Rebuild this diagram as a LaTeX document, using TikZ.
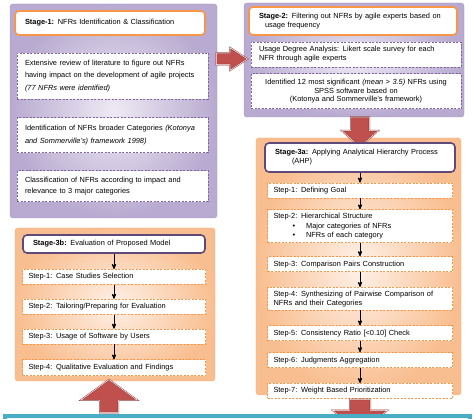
\documentclass[tikz,border=0pt]{standalone}
\usepackage{fontspec}
\setmainfont{Liberation Sans}
\usetikzlibrary{positioning, arrows, shapes.arrows}
\definecolor{purp}{HTML}{8064A2}
\definecolor{purpdark}{HTML}{5F497A}
\definecolor{purplight}{HTML}{EEEAF4}
\definecolor{purpmid}{HTML}{B8AAD0}
\definecolor{orng}{HTML}{F79646}
\definecolor{orngmid}{HTML}{F9BE90}
\definecolor{ornglight}{HTML}{FEF1E8}
\definecolor{arrred}{HTML}{C0504D}
\definecolor{arrdark}{HTML}{953734}
\definecolor{cyanline}{HTML}{4BACC6}
\tikzset{
>=stealth', % small bold heads between the steps
every node/.style={font=\fontsize{7.4}{9.6}\selectfont}, % one text size for every box
purplepanel/.style={rectangle, rounded corners=3pt, draw=purp!70, thin, inner sep=0pt, shading=radial, inner color=purplight, outer color=purpmid}, % stage 1 and 2 background
orangepanel/.style={rectangle, rounded corners=3pt, draw=orng!80, thin, inner sep=0pt, shading=radial, inner color=ornglight, outer color=orngmid}, % stage 3 background
stagehead/.style={rectangle, rounded corners=4pt, fill=white, line width=1.6pt, inner xsep=10pt, align=left}, % title box of a stage
orangehead/.style={stagehead, draw=orng},
purplehead/.style={stagehead, draw=purpdark},
notebox/.style={rectangle, fill=white, draw=purp, line width=0.8pt, dash pattern=on 2pt off 1.5pt, inner xsep=8pt, text width=175pt, align=left}, % dashed box on purple
stepbox/.style={rectangle, fill=white, draw=orng, line width=0.8pt, dash pattern=on 2pt off 1.5pt, inner xsep=6pt, minimum height=15pt, align=left}, % dashed box on orange
steparrow/.style={->, line width=0.8pt, black},
blockarrow/.style={single arrow, inner xsep=0pt, fill=arrred, draw=arrdark, line width=0.5pt, double=white, double distance=0.5pt, single arrow head indent=0pt}, % big red arrow between stages, inner ysep is half the shaft
endbox/.style={rectangle, draw=cyanline, line width=3.5pt, fill=cyanline!12}, % box below the picture
}

\begin{document}
\begin{tikzpicture}[x=1pt, y=1pt]
\useasboundingbox (0,0) rectangle (474,-419);
\node[purplepanel, minimum width=207pt, minimum height=214pt] (s1) at (113.5,-111) {};
\node[purplepanel, minimum width=220pt, minimum height=114pt] (s2) at (354,-60) {};
\node[orangepanel, minimum width=205pt, minimum height=257pt] (s3a) at (358.5,-266.5) {};
\node[orangepanel, minimum width=200pt, minimum height=153pt] (s3b) at (115,-304.5) {};

\node[blockarrow, minimum height=31pt, minimum width=22pt, inner ysep=5.5pt, single arrow head extend=5.5pt, single arrow tip angle=66] (r1) at (227.5,-59) {};
\node[blockarrow, rotate=-90, minimum height=30pt, minimum width=36pt, inner ysep=9pt, single arrow head extend=9pt, single arrow tip angle=95] (r2) at (360,-128) {};

\node[orangehead, text width=170pt, minimum height=24pt] (h1) at (110,-23) {\textbf{Stage-1:} NFRs Identification \& Classification};
\node[notebox, minimum height=46pt] (s1a) at (112.5,-76) {Extensive review of literature to figure out NFRs\\[3pt] having impact on the development of agile projects\\[3pt] \textit{(77 NFRs were identified)}};
\node[notebox, minimum height=35pt, below=18pt of s1a] (s1b) {Identification of NFRs broader Categories \textit{(Kotonya}\\[3.5pt] \textit{and Sommerville’s) framework 1998)}};
\node[notebox, minimum height=31pt, below=17pt of s1b] (s1c) {Classification of NFRs according to impact and\\[0.5pt] relevance to 3 major categories};

\node[orangehead, text width=188pt, minimum height=28pt] (h2) at (353,-21) {\textbf{Stage-2:} Filtering out NFRs by agile experts based on\\[-0.5pt] \hspace*{6pt}usage frequency};
\node[notebox, text width=194pt, minimum height=25pt] (s2a) at (356,-54.5) {Usage Degree Analysis: Likert scale survey for each\\[-0.5pt] NFR through agile experts};
\node[notebox, text width=194pt, minimum height=35pt, align=center, below=6pt of s2a] (s2b) {Identified 12 most significant \textit{(mean > 3.5)} NFRs using\\[-1pt] SPSS software based on\\[-1pt] (Kotonya and Sommerville’s framework)};

\node[purplehead, text width=170pt, minimum height=29pt] (h3a) at (360,-157.5) {\textbf{Stage-3a:} Applying Analytical Hierarchy Process\\[-0.5pt] \hspace*{17pt}(AHP)};
\node[stepbox, text width=173pt] (a1) at (360,-190.5) {Step-1: Defining Goal};
\node[stepbox, text width=173pt, minimum height=33pt, below=11pt of a1] (a2) {Step-2: Hierarchical Structure\\ \hspace*{19pt}\textbullet\hspace{11pt}Major categories of NFRs\\ \hspace*{19pt}\textbullet\hspace{11pt}NFRs of each category};
\node[stepbox, text width=173pt, below=13pt of a2] (a3) {Step-3: Comparison Pairs Construction};
\node[stepbox, text width=173pt, minimum height=22pt, below=15pt of a3] (a4) {Step-4: Synthesizing of Pairwise Comparison of\\[-0.5pt] NFRs and their Categories};
\node[stepbox, text width=173pt, below=15pt of a4] (a5) {Step-5: Consistency Ratio [<0.10] Check};
\node[stepbox, text width=173pt, below=11pt of a5] (a6) {Step-6: Judgments Aggregation};
\node[stepbox, text width=173pt, below=15pt of a6] (a7) {Step-7: Weight Based Prioritization};

\node[purplehead, text width=162pt, minimum height=18pt] (h3b) at (114,-244) {\textbf{Stage-3b:} Evaluation of Proposed Model};
\node[stepbox, text width=171pt] (b1) at (114,-277) {Step-1: Case Studies Selection};
\node[stepbox, text width=171pt, below=14pt of b1] (b2) {Step-2: Tailoring/Preparing for Evaluation};
\node[stepbox, text width=171pt, below=14pt of b2] (b3) {Step-3: Usage of Software by Users};
\node[stepbox, text width=171pt, minimum height=16pt, below=15pt of b3] (b4) {Step-4: Qualitative Evaluation and Findings};

\draw[steparrow]
    (h3a) edge (a1)
    (a1) edge (a2)
    (a2) edge (a3)
    (a3) edge (a4)
    (a4) edge (a5)
    (a5) edge (a6)
    (a6) edge (a7)
    (h3b) edge (b1)
    (b1) edge (b2)
    (b2) edge (b3)
    (b3) edge (b4)
    ;

\node[blockarrow, rotate=-90, minimum height=34pt, minimum width=54pt, inner ysep=10pt, single arrow head extend=17pt, single arrow tip angle=100] (r3) at (360,-412) {};
\node[blockarrow, rotate=90, minimum height=33pt, minimum width=56pt, inner ysep=9pt, single arrow head extend=19pt, single arrow tip angle=108] (r4) at (109,-399.5) {};
\node[endbox, minimum width=465pt, minimum height=30pt] (nx) at (237.5,-431) {};
\end{tikzpicture}
\end{document}
